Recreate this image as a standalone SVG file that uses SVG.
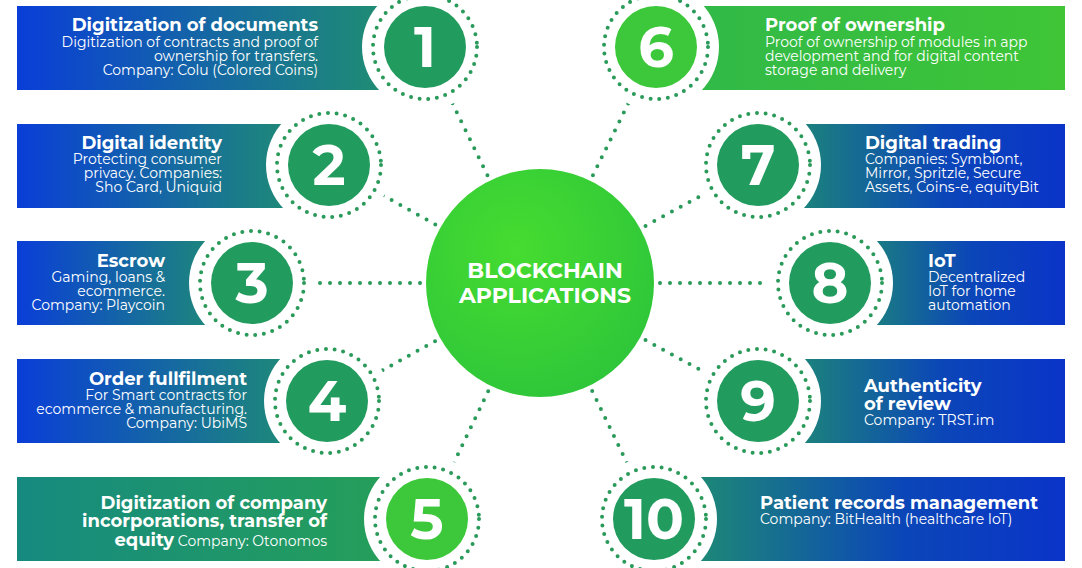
<svg xmlns="http://www.w3.org/2000/svg" width="1082" height="568" viewBox="0 0 1082 568">
<defs>
<linearGradient id="gl" x1="0" x2="1" y1="0" y2="0"><stop offset="0" stop-color="#0a3ed8"/><stop offset="1" stop-color="#21946a"/></linearGradient>
<linearGradient id="gr" x1="0" x2="1" y1="0" y2="0"><stop offset="0" stop-color="#21946a"/><stop offset="0.6" stop-color="#0b46b8"/><stop offset="1" stop-color="#0a34c8"/></linearGradient>
<linearGradient id="gl5" x1="0" x2="1"><stop offset="0" stop-color="#168a80"/><stop offset="1" stop-color="#27a155"/></linearGradient>
<linearGradient id="gr6" x1="0" x2="1"><stop offset="0" stop-color="#30b84a"/><stop offset="1" stop-color="#3fc536"/></linearGradient>
<radialGradient id="gc" cx="0.4" cy="0.35" r="0.7"><stop offset="0" stop-color="#46dc30"/><stop offset="1" stop-color="#2ec63a"/></radialGradient>
</defs>
<style>
.t{font-family:Montserrat,"Open Sans","Liberation Sans",sans-serif;font-weight:700;font-size:18px;fill:#fff}
.b{font-family:Montserrat,"Open Sans","Liberation Sans",sans-serif;font-size:14px;fill:#fff}
.n{font-family:Montserrat,"Open Sans","Liberation Sans",sans-serif;font-weight:700;font-size:56px;fill:#fff}
.l text{text-anchor:end}
.ring{fill:none;stroke:#2a9a5a;stroke-width:4;stroke-linecap:round;stroke-dasharray:0 8.7}
.w{fill:#fff}
.c{fill:#229b5e}
.dl{stroke:#2a9a5a;stroke-width:4;stroke-linecap:round;stroke-dasharray:0 10}
</style>
<rect width="1082" height="568" fill="#fff"/>
<g id="connectors">
<line class="dl" x1="540" y1="283" x2="425" y2="47"/>
<line class="dl" x1="540" y1="283" x2="329" y2="165"/>
<line class="dl" x1="540" y1="283" x2="252" y2="283"/>
<line class="dl" x1="540" y1="283" x2="327" y2="401"/>
<line class="dl" x1="540" y1="283" x2="427" y2="519"/>
<line class="dl" x1="540" y1="283" x2="656" y2="47"/>
<line class="dl" x1="540" y1="283" x2="758" y2="165"/>
<line class="dl" x1="540" y1="283" x2="830" y2="283"/>
<line class="dl" x1="540" y1="283" x2="758" y2="401"/>
<line class="dl" x1="540" y1="283" x2="654" y2="519"/>
</g>
<g id="n1" class="l"><rect x="17" y="6" width="400" height="84" fill="url(#gl)"/><circle class="w" cx="425" cy="47" r="63"/><circle class="ring" cx="425" cy="47" r="52"/><circle class="c" cx="425" cy="47" r="41"/><text class="n" x="425" y="67" style="text-anchor:middle">1</text>
<text class="t" x="318" y="31">Digitization of documents</text><text class="b" x="318" y="47">Digitization of contracts and proof of</text><text class="b" x="318" y="61">ownership for transfers.</text><text class="b" x="318" y="75">Company: Colu (Colored Coins)</text></g>
<g id="n2" class="l"><rect x="17" y="124" width="310" height="84" fill="url(#gl)"/><circle class="w" cx="329" cy="165" r="63"/><circle class="ring" cx="329" cy="165" r="52"/><circle class="c" cx="329" cy="165" r="41"/><text class="n" x="329" y="185" style="text-anchor:middle">2</text>
<text class="t" x="222" y="149">Digital identity</text><text class="b" x="222" y="164">Protecting consumer</text><text class="b" x="222" y="178">privacy. Companies:</text><text class="b" x="222" y="192">Sho Card, Uniquid</text></g>
<g id="n3" class="l"><rect x="17" y="241" width="230" height="84" fill="url(#gl)"/><circle class="w" cx="252" cy="283" r="63"/><circle class="ring" cx="252" cy="283" r="52"/><circle class="c" cx="252" cy="283" r="41"/><text class="n" x="252" y="303" style="text-anchor:middle">3</text>
<text class="t" x="165" y="267">Escrow</text><text class="b" x="165" y="282">Gaming, loans &amp;</text><text class="b" x="165" y="296">ecommerce.</text><text class="b" x="165" y="310">Company: Playcoin</text></g>
<g id="n4" class="l"><rect x="17" y="359" width="310" height="84" fill="url(#gl)"/><circle class="w" cx="327" cy="401" r="63"/><circle class="ring" cx="327" cy="401" r="52"/><circle class="c" cx="327" cy="401" r="41"/><text class="n" x="327" y="421" style="text-anchor:middle">4</text>
<text class="t" x="247" y="385">Order fullfilment</text><text class="b" x="247" y="400">For Smart contracts for</text><text class="b" x="247" y="414">ecommerce &amp; manufacturing.</text><text class="b" x="247" y="428">Company: UbiMS</text></g>
<g id="n5" class="l"><rect x="17" y="477" width="410" height="84" fill="url(#gl5)"/><circle class="w" cx="427" cy="519" r="63"/><circle class="ring" cx="427" cy="519" r="52"/><circle cx="427" cy="519" r="41" fill="#3cc83a"/><text class="n" x="427" y="539" style="text-anchor:middle">5</text>
<text class="t" x="327" y="509">Digitization of company</text><text class="t" x="327" y="527">incorporations, transfer of</text><text x="327" y="546"><tspan class="t">equity</tspan><tspan class="b"> Company: Otonomos</tspan></text></g>
<g id="n6"><rect x="660" y="6" width="405" height="84" fill="url(#gr6)"/><circle class="w" cx="656" cy="47" r="63"/><circle class="ring" cx="656" cy="47" r="52"/><circle cx="656" cy="47" r="41" fill="#3cc83a"/><text class="n" x="656" y="67" text-anchor="middle">6</text>
<text class="t" x="765" y="31">Proof of ownership</text><text class="b" x="765" y="47">Proof of ownership of modules in app</text><text class="b" x="765" y="61">development and for digital content</text><text class="b" x="765" y="75">storage and delivery</text></g>
<g id="n7"><rect x="760" y="124" width="305" height="84" fill="url(#gr)"/><circle class="w" cx="758" cy="165" r="63"/><circle class="ring" cx="758" cy="165" r="52"/><circle class="c" cx="758" cy="165" r="41"/><text class="n" x="758" y="185" text-anchor="middle">7</text>
<text class="t" x="865" y="149">Digital trading</text><text class="b" x="865" y="164">Companies: Symbiont,</text><text class="b" x="865" y="178">Mirror, Spritzle, Secure</text><text class="b" x="865" y="192">Assets, Coins-e, equityBit</text></g>
<g id="n8"><rect x="830" y="241" width="235" height="84" fill="url(#gr)"/><circle class="w" cx="830" cy="283" r="63"/><circle class="ring" cx="830" cy="283" r="52"/><circle class="c" cx="830" cy="283" r="41"/><text class="n" x="830" y="303" text-anchor="middle">8</text>
<text class="t" x="928" y="267">IoT</text><text class="b" x="928" y="282">Decentralized</text><text class="b" x="928" y="296">IoT for home</text><text class="b" x="928" y="310">automation</text></g>
<g id="n9"><rect x="760" y="359" width="305" height="84" fill="url(#gr)"/><circle class="w" cx="758" cy="401" r="63"/><circle class="ring" cx="758" cy="401" r="52"/><circle class="c" cx="758" cy="401" r="41"/><text class="n" x="758" y="421" text-anchor="middle">9</text>
<text class="t" x="864" y="392">Authenticity</text><text class="t" x="864" y="410">of review</text><text class="b" x="864" y="425">Company: TRST.im</text></g>
<g id="n10"><rect x="660" y="477" width="405" height="84" fill="url(#gr)"/><circle class="w" cx="654" cy="519" r="63"/><circle class="ring" cx="654" cy="519" r="52"/><circle class="c" cx="654" cy="519" r="41"/><text class="n" x="654" y="539" text-anchor="middle">10</text>
<text class="t" x="760" y="509">Patient records management</text><text class="b" x="760" y="524">Company: BitHealth (healthcare IoT)</text></g>
<g id="center"><circle cx="540" cy="283" r="114" fill="url(#gc)"/><text class="t" x="545" y="278" text-anchor="middle" style="font-size:22px">BLOCKCHAIN</text><text class="t" x="545" y="303" text-anchor="middle" style="font-size:22px">APPLICATIONS</text></g>
</svg>
